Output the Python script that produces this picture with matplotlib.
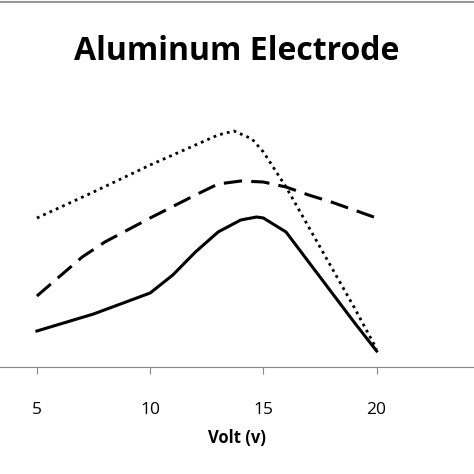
import matplotlib
matplotlib.use("Agg")
import matplotlib.pyplot as plt

plt.rcParams['font.family'] = ['Open Sans', 'DejaVu Sans']

x_solid = [5, 7.5, 10, 11, 12, 13, 14, 14.7, 15, 16, 17, 18, 19, 20]
y_solid = [36, 53, 74, 92, 115, 135, 147, 150, 149, 135, 105, 75, 45, 16]
x_dash = [5, 7, 8, 10, 12, 13, 14, 15, 16, 17, 18, 20]
y_dash = [71, 110, 125, 149, 172, 183, 186, 185, 180, 172, 165, 149]
x_dot = [5, 7.5, 10, 12, 13, 13.7, 14.5, 15, 16, 17, 18, 19, 20]
y_dot = [149, 175, 202, 222, 232, 236, 228, 215, 180, 140, 100, 60, 18]
xticks = [5, 10, 15, 20, 25]

fig = plt.figure(figsize=(4.74, 4.74), dpi=100)
ax = fig.add_axes([0, 1 - 367/474, 1, 367/474])
ax.plot(x_solid, y_solid, color='black', lw=2.2, ls='-')
ax.plot(x_dash, y_dash, color='black', lw=2.2, ls=(0, (6, 3)))
ax.plot(x_dot, y_dot, color='black', lw=2, ls=(0, (1, 1.5)))
ax.set_xlim(3.37, 24.3)
ax.set_ylim(0, 367)
for s in ['left', 'right', 'top']:
    ax.spines[s].set_visible(False)
ax.spines['bottom'].set_color('#888888')
ax.set_yticks([])
ax.set_xticks(xticks[:-1])
ax.tick_params(axis='x', length=5, color='#888888', labelsize=12.5, pad=20)
ax.text(25, -41, '25', ha='center', va='center', fontsize=12.5, clip_on=False,
        transform=ax.transData)
fig.lines.append(plt.Line2D([0, 1], [1 - 2/474, 1 - 2/474], color='#999999', lw=1.5,
                            transform=fig.transFigure))
fig.text(0.5, 1 - 52/474, 'Aluminum Electrode', ha='center', va='center',
         fontsize=23, fontweight='bold')
fig.text(237/474, 1 - 438/474, 'Volt (v)', ha='center', va='center',
         fontsize=12, fontweight='bold')
fig.savefig('out.png', dpi=100)
